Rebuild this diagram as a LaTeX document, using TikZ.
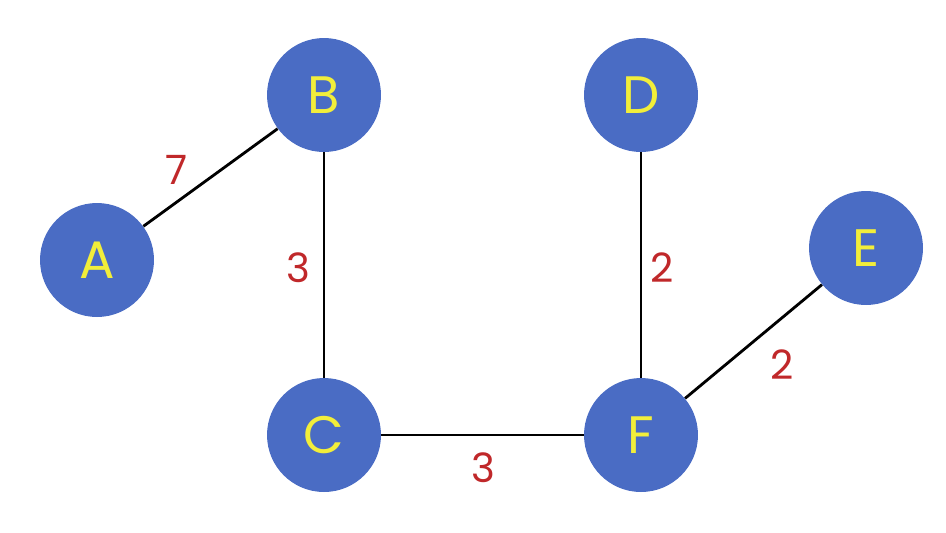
\documentclass[tikz,border=0pt]{standalone}
\usepackage{fontspec}
\setmainfont{Poppins}
\begin{document}
\begin{tikzpicture}[x=0.02cm, y=-0.02cm]
    \tikzset{
        vertex/.style={circle, fill=vblue, minimum size=2.28cm, inner sep=0pt,
            text=vyellow, font=\fontsize{30}{30}\selectfont},
        weight/.style={text=wred, font=\fontsize{23}{23}\selectfont},
        edge/.style={line width=1.6pt}
    }
    \definecolor{vblue}{HTML}{4A6CC4}
    \definecolor{vyellow}{HTML}{F2EE3A}
    \definecolor{wred}{HTML}{C0282A}
    \useasboundingbox (0,0) rectangle (946,532);

    \node[vertex] (A) at (97,260) {A};
    \node[vertex] (B) at (324,95) {B};
    \node[vertex] (C) at (324,435) {C};
    \node[vertex] (D) at (641,95) {D};
    \node[vertex] (E) at (866,248) {E};
    \node[vertex] (F) at (641,435) {F};

    \draw[edge] (A) -- (B);
    \draw[edge] (B) -- (C);
    \draw[edge] (C) -- (F);
    \draw[edge] (D) -- (F);
    \draw[edge] (F) -- (E);

    \node[weight] (wAB) at (177,170) {7};
    \node[weight] (wBC) at (298,268) {3};
    \node[weight] (wCF) at (483,468) {3};
    \node[weight] (wDF) at (662,268) {2};
    \node[weight] (wEF) at (782,365) {2};
\end{tikzpicture}
\end{document}
